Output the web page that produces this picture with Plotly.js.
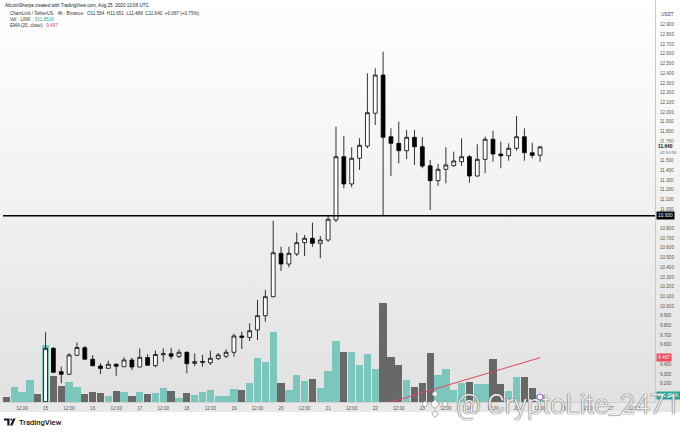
<!DOCTYPE html>
<html>
<head>
<meta charset="utf-8">
<script src="https://cdn.plot.ly/plotly-3.0.1.min.js"></script>
<style>
  html, body { margin: 0; padding: 0; background: #fff; }
  #chart {
    width: 680px; height: 432px;
    background: linear-gradient(to bottom,
      #ffffff 0px, #f6f6f6 140px, #e9e9e9 300px, #e1e1e1 402px,
      #e8e8e8 402px, #e8e8e8 412px, #ffffff 412px, #ffffff 432px);
  }
</style>
</head>
<body>
<div id="chart"></div>
<script>
// LINK/USDT, Binance, 4h candles from 14 Aug 2020 04:00 UTC
const START_UTC = Date.UTC(2020, 7, 14, 4, 0, 0);
const STEP_MS = 4 * 3600 * 1000;
const FIRST_CANDLE = 5;   // earlier candles sit below the visible price range

// OHLC for candles 5..68
const open = [9.013,9.564,9.323,9.296,9.492,9.570,9.451,9.381,9.358,9.399,9.374,9.443,9.371,9.469,9.385,9.497,
  9.508,9.481,9.523,9.409,9.418,9.415,9.458,9.482,9.523,9.691,9.677,9.753,9.900,10.096,10.543,10.433,
  10.536,10.653,10.698,10.646,10.680,10.887,11.539,11.258,11.523,11.649,11.987,12.381,11.745,11.677,11.601,11.739,
  11.642,11.446,11.292,11.409,11.446,11.488,11.539,11.340,11.512,11.719,11.567,11.549,11.626,11.745,11.580,11.554];
const high = [9.729,9.577,9.376,9.512,9.624,9.588,9.493,9.410,9.436,9.409,9.471,9.467,9.563,9.502,9.539,9.564,
  9.569,9.552,9.530,9.512,9.495,9.539,9.515,9.554,9.714,9.735,9.822,10.062,10.165,10.879,10.611,10.611,
  10.756,10.732,10.859,10.722,10.938,11.848,11.753,11.636,11.729,12.399,12.451,12.622,11.832,11.900,11.814,11.814,
  11.739,11.505,11.464,11.636,11.591,11.729,11.557,11.667,11.745,11.807,11.694,11.677,11.959,11.832,11.684,11.651];
const low = [8.990,9.306,9.203,9.290,9.488,9.445,9.380,9.299,9.355,9.281,9.370,9.340,9.368,9.385,9.368,9.426,
  9.451,9.461,9.306,9.381,9.374,9.392,9.443,9.461,9.477,9.557,9.639,9.649,9.838,10.090,10.361,10.399,
  10.515,10.515,10.611,10.492,10.663,10.866,11.213,11.224,11.402,11.626,11.866,10.928,11.340,11.471,11.515,11.454,
  11.420,10.990,11.240,11.265,11.436,11.443,11.271,11.334,11.368,11.488,11.420,11.498,11.601,11.498,11.523,11.488];
const close = [9.564,9.316,9.296,9.495,9.572,9.452,9.384,9.356,9.399,9.378,9.443,9.371,9.471,9.389,9.500,9.508,
  9.481,9.523,9.405,9.426,9.428,9.461,9.495,9.523,9.691,9.677,9.745,9.900,10.096,10.549,10.433,10.543,
  10.653,10.698,10.646,10.680,10.894,11.539,11.258,11.523,11.657,11.993,12.381,11.739,11.677,11.601,11.739,11.642,
  11.443,11.292,11.409,11.454,11.495,11.539,11.340,11.512,11.719,11.567,11.549,11.626,11.745,11.580,11.553,11.640];

// Volume in thousands of LINK, candles 0..68
const volumeK = [251,725,488,1043,379,2702,1247,758,962,697,379,474,412,299,536,488,299,488,365,441,
  664,507,190,441,346,474,569,270,270,640,555,915,2071,1910,3304,886,569,1266,1010,1090,
  649,1455,2906,2384,2356,1754,2275,1578,4693,2147,1754,1043,697,915,2308,1280,1578,569,924,934,
  839,839,2038,839,521,1171,1171,649,331.851];
// direction of the first volume bars whose candles are off-scale
const earlyVolumeUp = [false, true, true, true, false];

// EMA (20, close) for candles 48..68
const EMA_FIRST = 48;
const ema = [8.986,9.010,9.035,9.058,9.082,9.106,9.130,9.154,9.178,9.202,9.226,9.250,9.274,9.298,9.322,
  9.346,9.370,9.395,9.419,9.443,9.467];

const levelLine = 10.930;
const priceTicks = [9.2,9.3,9.4,9.6,9.7,9.8,9.9,10.0,10.1,10.2,10.3,10.4,10.5,10.6,10.7,10.8,11.0,11.1,11.2,11.3,
  11.4,11.5,11.7,11.8,11.9,12.0,12.1,12.2,12.3,12.4,12.5,12.6,12.7,12.8,12.9];

// ---------- helpers ----------
const fmtDate = ms => new Date(ms).toISOString().slice(0, 19).replace('T', ' ');
const times = volumeK.map((_, i) => fmtDate(START_UTC + i * STEP_MS));
const candleTimes = times.slice(FIRST_CANDLE);

const W = 680, H = 432, M = { l: 3, r: 25, t: 0, b: 30 };
const PW = W - M.l - M.r, PH = H - M.t - M.b;
const px2x = px => (px - M.l) / PW;
const py2y = py => (PH - (py - M.t)) / PH;

const TEAL = '#7cc7bd', DARK = '#686868';
const volColors = volumeK.map((_, i) => {
  if (i < FIRST_CANDLE) return earlyVolumeUp[i] ? TEAL : DARK;
  const k = i - FIRST_CANDLE;
  return close[k] >= open[k] ? TEAL : DARK;
});

// x ticks every 12h: day number at midnight, "12:00" at noon
const xTickVals = [], xTickText = [];
for (let ms = Date.UTC(2020, 7, 14, 12); ms <= Date.UTC(2020, 7, 27, 12); ms += 12 * 3600 * 1000) {
  const d = new Date(ms);
  xTickVals.push(fmtDate(ms));
  xTickText.push(d.getUTCHours() === 12 ? '12:00' : String(d.getUTCDate()));
}

const FONT = 'Liberation Sans, Arial, sans-serif';
const n = close.length;
const lastO = open[n - 1], lastH = high[n - 1], lastL = low[n - 1], lastC = close[n - 1];
const chg = lastC - close[n - 2];
const lastVol = volumeK[volumeK.length - 1];
const lastEma = ema[ema.length - 1];

// ---------- traces ----------
const volumeTrace = {
  type: 'bar', x: times, y: volumeK, yaxis: 'y', xaxis: 'x',
  marker: { color: volColors, line: { width: 0 } },
  width: STEP_MS * 0.93, hoverinfo: 'skip'
};
const emaTrace = {
  type: 'scatter', mode: 'lines', x: times.slice(EMA_FIRST), y: ema, yaxis: 'y2',
  line: { color: '#e0475b', width: 1 }, hoverinfo: 'skip'
};
const candleTrace = {
  type: 'candlestick', x: candleTimes, open, high, low, close, yaxis: 'y2',
  increasing: { line: { color: '#000', width: 0.8 }, fillcolor: '#ffffff' },
  decreasing: { line: { color: '#000', width: 0.8 }, fillcolor: '#000000' },
  whiskerwidth: 0, hoverinfo: 'skip'
};

// ---------- decorations ----------
function diamond(cx, cy, r) {
  return `M${px2x(cx - r)},${py2y(cy)} L${px2x(cx)},${py2y(cy - r)} L${px2x(cx + r)},${py2y(cy)} L${px2x(cx)},${py2y(cy + r)} Z`;
}
const wmStyle = { type: 'path', xref: 'paper', yref: 'paper', fillcolor: 'rgba(255,255,255,0.9)',
  line: { color: 'rgba(110,110,110,0.8)', width: 0.8 }, layer: 'above' };

const shapes = [
  { type: 'line', xref: 'paper', x0: 0, x1: 1, yref: 'y2', y0: levelLine, y1: levelLine,
    line: { color: '#000', width: 1.6 }, layer: 'above' },
  // event marker circle
  { type: 'circle', xref: 'paper', yref: 'paper', x0: px2x(537), x1: px2x(543), y0: py2y(400), y1: py2y(394),
    line: { color: '#9c4dcc', width: 0.9 }, fillcolor: '#ffffff', layer: 'above' },
  // watermark emblem
  Object.assign({ path: diamond(435, 404, 4.6) }, wmStyle),
  Object.assign({ path: diamond(425, 404, 3.2) }, wmStyle),
  Object.assign({ path: diamond(445, 404, 3.2) }, wmStyle),
  Object.assign({ path: diamond(435, 394, 3.4) }, wmStyle),
  Object.assign({ path: diamond(435, 414, 3.4) }, wmStyle),
  // TradingView logo glyph
  { type: 'path', xref: 'paper', yref: 'paper', layer: 'above', fillcolor: '#131722', line: { width: 0 },
    path: `M${px2x(4)},${py2y(418.5)} L${px2x(9.5)},${py2y(418.5)} L${px2x(9.5)},${py2y(425.5)} L${px2x(7.3)},${py2y(425.5)} L${px2x(7.3)},${py2y(420.6)} L${px2x(4)},${py2y(420.6)} Z` },
  { type: 'circle', xref: 'paper', yref: 'paper', layer: 'above', fillcolor: '#131722', line: { width: 0 },
    x0: px2x(10.2), x1: px2x(12.2), y0: py2y(420.6), y1: py2y(418.6) },
  { type: 'path', xref: 'paper', yref: 'paper', layer: 'above', fillcolor: '#131722', line: { width: 0 },
    path: `M${px2x(13.2)},${py2y(418.5)} L${px2x(15.6)},${py2y(418.5)} L${px2x(12.4)},${py2y(425.5)} L${px2x(10)},${py2y(425.5)} Z` }
];

const hdr = (text, x, y, size, color) => ({
  text, xref: 'paper', yref: 'paper', x: px2x(x), y: py2y(y), xanchor: 'left', yanchor: 'middle',
  showarrow: false, font: { family: FONT, size: size || 4.6, color: color || '#333' }
});
const axisLabel = (text, yv, yref, bg, fg, bold) => ({
  text: bold ? '<b>' + text + '</b>' : text, xref: 'paper', x: 1, xanchor: 'left', xshift: 0.5,
  yref, y: yv, yanchor: 'middle', showarrow: false, bgcolor: bg, borderpad: 1,
  font: { family: FONT, size: 4.8, color: fg }
});

const annotations = [
  hdr('AltcoinSherpa created with TradingView.com, Aug 25, 2020 13:06 UTC', 3, 5, 4.6, '#222'),
  hdr(`ChainLink / TetherUS · 4h · Binance   O${lastO.toFixed(3)}  H${lastH.toFixed(3)}  L${lastL.toFixed(3)}  C${lastC.toFixed(3)}  ${chg >= 0 ? '+' : ''}${chg.toFixed(3)} (${chg >= 0 ? '+' : ''}${(chg / close[n - 2] * 100).toFixed(2)}%)`, 8, 14, 4.6, '#333'),
  hdr(`Vol · LINK   <span style="color:#26a69a">${lastVol.toFixed(3)}K</span>`, 8, 19.5, 4.6, '#333'),
  hdr(`EMA (20, close)   <span style="color:#e0475b">${lastEma.toFixed(3)}</span>`, 8, 25.5, 4.6, '#333'),
  { text: 'USDT', xref: 'paper', x: 1, xanchor: 'left', xshift: 4, yref: 'paper', y: py2y(15), yanchor: 'middle',
    showarrow: false, font: { family: FONT, size: 4.6, color: '#444' } },
  axisLabel(levelLine.toFixed(3), levelLine, 'y2', '#000000', '#ffffff', false),
  axisLabel(lastEma.toFixed(3), lastEma, 'y2', '#ef4a5c', '#ffffff', false),
  axisLabel(lastVol.toFixed(3) + 'K', lastVol, 'y', '#26a69a', '#ffffff', false),
  axisLabel(lastC.toFixed(3), lastC, 'y2', '#f1f1f1', '#111', true),
  { text: '02:53:55', xref: 'paper', x: 1, xanchor: 'left', xshift: 3, yref: 'y2', y: lastC, yshift: -5.5,
    yanchor: 'middle', showarrow: false, font: { family: FONT, size: 4.2, color: '#666' } },
  // watermark
  { text: '@ CryptoLite_2471', xref: 'paper', yref: 'paper', x: px2x(454), y: py2y(405), xanchor: 'left',
    yanchor: 'middle', showarrow: false,
    font: { family: 'Roboto, sans-serif', size: 27, weight: 300, color: 'rgba(255,255,255,0.92)',
      shadow: '0px 0px 1px #6e6e6e, 0px 0px 1px #6e6e6e, 0px 0px 1px #6e6e6e' } },
  // footer brand
  { text: 'TradingView', xref: 'paper', yref: 'paper', x: px2x(17), y: py2y(422), xanchor: 'left',
    yanchor: 'middle', showarrow: false, font: { family: 'Roboto, sans-serif', size: 7.6, weight: 500, color: '#131722' } }
];

const layout = {
  width: W, height: H, margin: M,
  paper_bgcolor: 'rgba(0,0,0,0)', plot_bgcolor: 'rgba(0,0,0,0)',
  showlegend: false, dragmode: false, bargap: 0,
  xaxis: {
    type: 'date',
    range: [fmtDate(START_UTC - 0.42 * STEP_MS), fmtDate(START_UTC + 82.64 * STEP_MS)],
    rangeslider: { visible: false }, showgrid: false, zeroline: false,
    tickvals: xTickVals, ticktext: xTickText, ticks: '', ticklabelstandoff: 1,
    tickfont: { family: FONT, size: 4.6, color: '#555' },
    showline: true, linecolor: '#d2d2d2', linewidth: 1
  },
  yaxis: { range: [0, 19058], visible: false, fixedrange: true },
  yaxis2: {
    overlaying: 'y', side: 'right', range: [9.0103, 13.1546],
    tickvals: priceTicks, ticktext: priceTicks.map(v => v.toFixed(3)),
    ticks: '', ticklabelstandoff: 3, showgrid: false, zeroline: false,
    showline: true, linecolor: '#c9c9c9', linewidth: 1,
    tickfont: { family: FONT, size: 4.6, color: '#555' }
  },
  shapes, annotations
};

Plotly.newPlot('chart', [volumeTrace, emaTrace, candleTrace], layout, { staticPlot: true, displayModeBar: false });
</script>
</body>
</html>
